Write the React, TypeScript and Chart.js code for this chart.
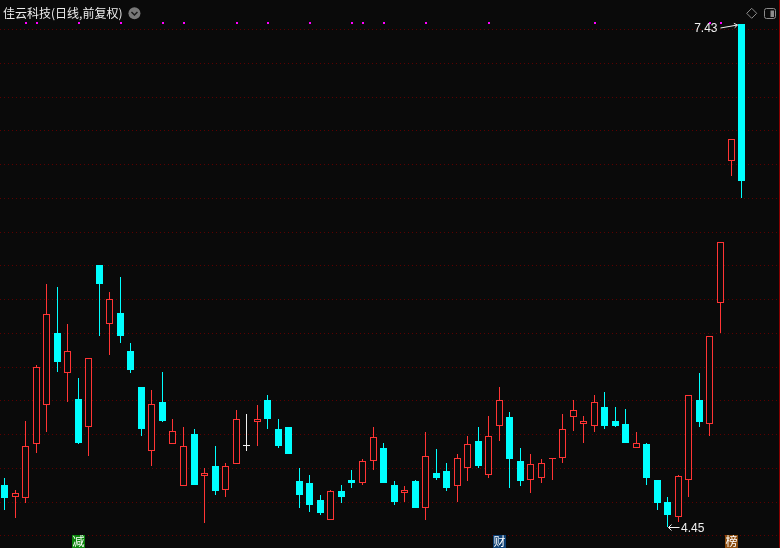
import React, { useEffect, useRef } from "react";
import { Chart, registerables, LinearScale } from "chart.js";

// pixel-snapped linear scales so candles render crisp like the terminal chart
class SnapX extends (LinearScale as any) {
  static id = "snapX";
  static defaults = (LinearScale as any).defaults;
  getPixelForValue(v: number) {
    return Math.floor(super.getPixelForValue(v)) + 0.5;
  }
}
class SnapY extends (LinearScale as any) {
  static id = "snapY";
  static defaults = (LinearScale as any).defaults;
  getPixelForValue(v: number) {
    return Math.round(super.getPixelForValue(v));
  }
}
Chart.register(...registerables, SnapX as any, SnapY as any);

// ---- data (daily candles, forward-adjusted) ----
const opens = [
  4.70, 4.63, 4.62, 4.94, 5.17, 5.60, 5.36, 5.21, 5.04, 6.00,
  5.65, 5.72, 5.49, 5.28, 4.90, 5.19, 4.94, 4.69, 5.00, 4.75,
  4.81, 4.67, 4.82, 4.93, 5.07, 5.20, 5.03, 5.04, 4.72, 4.71,
  4.61, 4.49, 4.66, 4.73, 4.71, 4.84, 4.92, 4.70, 4.65, 4.72,
  4.56, 4.77, 4.78, 4.69, 4.80, 4.96, 4.76, 5.05, 5.10, 4.84,
  4.73, 4.74, 4.85, 4.86, 5.10, 5.06, 5.05, 5.16, 5.08, 5.06,
  4.92, 4.94, 4.73, 4.60, 4.51, 4.73, 5.20, 5.06, 5.78, 6.62,
  7.43,
];
const highs = [
  4.74, 4.67, 5.08, 5.41, 5.89, 5.87, 5.65, 5.33, 5.45, 6.00,
  5.84, 5.93, 5.54, 5.28, 5.26, 5.37, 5.09, 5.04, 5.03, 4.80,
  4.93, 4.83, 5.14, 5.12, 5.17, 5.23, 5.09, 5.04, 4.80, 4.76,
  4.64, 4.67, 4.70, 4.79, 4.85, 5.04, 4.95, 4.72, 4.69, 4.73,
  5.01, 4.91, 4.83, 4.88, 4.99, 5.04, 5.11, 5.28, 5.13, 4.92,
  4.88, 4.85, 4.86, 5.12, 5.20, 5.11, 5.23, 5.25, 5.16, 5.15,
  5.01, 4.95, 4.73, 4.63, 4.76, 5.23, 5.36, 5.58, 6.14, 6.75,
  7.43,
];
const lows = [
  4.55, 4.50, 4.59, 4.89, 5.01, 5.37, 5.19, 4.94, 4.87, 5.58,
  5.47, 5.54, 5.36, 4.99, 4.81, 5.07, 4.94, 4.69, 4.70, 4.47,
  4.64, 4.63, 4.82, 4.90, 4.93, 5.03, 4.92, 4.88, 4.56, 4.54,
  4.52, 4.49, 4.59, 4.68, 4.70, 4.79, 4.71, 4.58, 4.60, 4.56,
  4.49, 4.73, 4.66, 4.60, 4.72, 4.80, 4.74, 4.96, 4.68, 4.69,
  4.65, 4.71, 4.73, 4.83, 5.02, 4.95, 5.01, 5.03, 5.04, 4.95,
  4.92, 4.70, 4.55, 4.45, 4.48, 4.63, 5.04, 4.99, 5.60, 6.53,
  6.40,
];
const closes = [
  4.62, 4.65, 4.93, 5.40, 5.71, 5.43, 5.49, 4.95, 5.45, 5.89,
  5.80, 5.58, 5.38, 5.03, 5.18, 5.08, 5.02, 4.93, 4.70, 4.77,
  4.66, 4.81, 5.09, 4.93, 5.09, 5.09, 4.93, 4.88, 4.64, 4.58,
  4.53, 4.66, 4.63, 4.71, 4.84, 4.98, 4.71, 4.60, 4.67, 4.56,
  4.87, 4.74, 4.68, 4.86, 4.94, 4.81, 4.99, 5.20, 4.85, 4.72,
  4.82, 4.83, 4.86, 5.03, 5.14, 5.08, 5.19, 5.05, 5.05, 4.95,
  4.95, 4.74, 4.59, 4.52, 4.75, 5.23, 5.07, 5.58, 6.14, 6.75,
  6.50,
];
// signal markers (magenta dots along the top)
const markerIdx = [2, 3, 7, 11, 15, 17, 22, 25, 29, 33, 34, 36, 40, 46, 56, 67, 68];
const markerLevel = 7.44;
// bottom event tags
const tagIdx = [7, 47, 69];
const tagText = ["减", "财", "榜"];
const tagColor = ["#0b840b", "#0d3f73", "#8c4c0e"];
// horizontal price grid
const priceGrid = [4.4, 4.6, 4.8, 5.0, 5.2, 5.4, 5.6, 5.8, 6.0, 6.2, 6.4, 6.6, 6.8, 7.0, 7.2, 7.4];
const titleText = "佳云科技(日线,前复权)";

const BG = "#0a0a0a";
const RED = "#ff3434";
const CYAN = "#00ffff";
const WHITE = "#f0f0f0";

export default function App() {
  const ref = useRef<HTMLCanvasElement | null>(null);

  useEffect(() => {
    const canvas = ref.current;
    if (!canvas) return;
    const idx = opens.map((_, i) => i);
    const col = closes.map((c, i) => (c > opens[i] ? RED : c < opens[i] ? CYAN : WHITE));
    const fill = col.map((c) => (c === RED ? BG : c));

    // 2x2 magenta dot sprite (3 wide so it lands on whole pixels)
    const dot = document.createElement("canvas");
    dot.width = 3;
    dot.height = 2;
    const dctx = dot.getContext("2d");
    if (dctx) {
      dctx.fillStyle = "#ff00ff";
      dctx.fillRect(1, 0, 2, 2);
    }

    const overlay = {
      id: "overlay",
      afterDatasetsDraw(chart: any) {
        const ctx = chart.ctx as CanvasRenderingContext2D;
        const xs = chart.scales.x;
        const ys = chart.scales.y;
        ctx.save();
        // right border
        ctx.strokeStyle = "#8a0000";
        ctx.lineWidth = 1;
        ctx.beginPath();
        ctx.moveTo(779.5, 0);
        ctx.lineTo(779.5, 548);
        ctx.stroke();

        // title
        ctx.font = '12px "Noto Sans CJK SC", sans-serif';
        ctx.fillStyle = "#ececec";
        ctx.textBaseline = "middle";
        ctx.textAlign = "left";
        ctx.fillText(titleText, 3, 13.5);
        const tw = ctx.measureText(titleText).width;
        const cx0 = 3 + tw + 12;
        ctx.fillStyle = "#787878";
        ctx.beginPath();
        ctx.arc(cx0, 13.2, 6, 0, Math.PI * 2);
        ctx.fill();
        ctx.strokeStyle = "#1a1a1a";
        ctx.lineWidth = 1.5;
        ctx.beginPath();
        ctx.moveTo(cx0 - 3, 12);
        ctx.lineTo(cx0, 15);
        ctx.lineTo(cx0 + 3, 12);
        ctx.stroke();

        // top-right icons
        ctx.strokeStyle = "#8c8c8c";
        ctx.lineWidth = 1;
        ctx.beginPath();
        ctx.moveTo(751.7, 8.3);
        ctx.lineTo(756.7, 13.3);
        ctx.lineTo(751.7, 18.3);
        ctx.lineTo(746.7, 13.3);
        ctx.closePath();
        ctx.stroke();
        ctx.beginPath();
        (ctx as any).roundRect ? (ctx as any).roundRect(764.5, 8.5, 11, 10, 2) : ctx.rect(764.5, 8.5, 11, 10);
        ctx.stroke();
        ctx.fillStyle = "#8c8c8c";
        ctx.fillRect(770.5, 10.5, 3.5, 6.5);

        // max / min labels
        let hi = 0, lo = 0;
        highs.forEach((h, i) => { if (h > highs[hi]) hi = i; });
        lows.forEach((l, i) => { if (l < lows[lo]) lo = i; });
        ctx.font = '12px "Liberation Sans", Arial, sans-serif';
        ctx.fillStyle = "#f0f0f0";
        ctx.strokeStyle = "#f0f0f0";
        ctx.lineWidth = 1;
        const hx = xs.getPixelForValue(hi);
        const hy = ys.getPixelForValue(highs[hi]);
        ctx.textAlign = "right";
        ctx.fillText(highs[hi].toFixed(2), hx - 24, hy + 5);
        const ax0 = hx - 21, ay0 = hy + 4, ax1 = hx - 4, ay1 = hy + 1;
        ctx.beginPath();
        ctx.moveTo(ax0, ay0);
        ctx.lineTo(ax1, ay1);
        const ang = Math.atan2(ay1 - ay0, ax1 - ax0);
        ctx.moveTo(ax1, ay1);
        ctx.lineTo(ax1 - 4 * Math.cos(ang - 0.6), ay1 - 4 * Math.sin(ang - 0.6));
        ctx.moveTo(ax1, ay1);
        ctx.lineTo(ax1 - 4 * Math.cos(ang + 0.6), ay1 - 4 * Math.sin(ang + 0.6));
        ctx.stroke();

        const lx = xs.getPixelForValue(lo);
        const ly = ys.getPixelForValue(lows[lo]);
        ctx.beginPath();
        ctx.moveTo(lx + 1, ly + 0.5);
        ctx.lineTo(lx + 12, ly + 0.5);
        ctx.moveTo(lx + 1, ly + 0.5);
        ctx.lineTo(lx + 4, ly - 2.5);
        ctx.moveTo(lx + 1, ly + 0.5);
        ctx.lineTo(lx + 4, ly + 3.5);
        ctx.stroke();
        ctx.textAlign = "left";
        ctx.fillText(lows[lo].toFixed(2), lx + 13.5, ly + 1.5);

        // bottom tags
        ctx.font = '12px "Noto Sans CJK SC", sans-serif';
        ctx.textAlign = "center";
        tagIdx.forEach((ti, k) => {
          const tx = xs.getPixelForValue(ti);
          ctx.fillStyle = tagColor[k];
          ctx.fillRect(Math.round(tx - 6.5), 535, 13, 13);
          ctx.fillStyle = "#ffffff";
          ctx.fillText(tagText[k], tx, 541.5);
        });
        ctx.restore();
      },
    };

    const chart = new Chart(canvas, {
      type: "bar",
      data: {
        datasets: [
          {
            type: "bar",
            label: "body",
            data: idx.map((i) => ({ x: i, y: [opens[i], closes[i]] })) as any,
            backgroundColor: fill,
            borderColor: col,
            borderWidth: 1,
            borderSkipped: false,
            barThickness: 7,
            minBarLength: 1,
            inflateAmount: 0,
            grouped: false,
            order: 0,
          } as any,
          {
            type: "bar",
            label: "wick",
            data: idx.map((i) => ({ x: i, y: [lows[i], highs[i]] })) as any,
            backgroundColor: col,
            borderWidth: 0,
            borderSkipped: false,
            barThickness: 1,
            inflateAmount: 0,
            grouped: false,
            order: 1,
          } as any,
          {
            type: "scatter",
            label: "signal",
            data: markerIdx.map((i) => ({ x: i, y: markerLevel })),
            pointStyle: dot,
            pointRadius: 1.42,
            pointHoverRadius: 0,
            pointHitRadius: 0,
            backgroundColor: "#ff00ff",
            borderWidth: 0,
            clip: false,
            order: 2,
          } as any,
        ],
      },
      options: {
        animation: false,
        responsive: false,
        maintainAspectRatio: false,
        devicePixelRatio: 1,
        events: [],
        layout: { padding: 0, autoPadding: false },
        plugins: { legend: { display: false }, tooltip: { enabled: false }, title: { display: false } },
        scales: {
          x: { type: "snapX", min: -0.4274, max: 73.653, display: false, offset: false },
          y: {
            type: "snapY",
            position: "left",
            min: 4.3247,
            max: 7.5737,
            afterBuildTicks: (s: any) => {
              s.ticks = priceGrid.map((v) => ({ value: v }));
            },
            ticks: { display: false },
            grid: { color: "#5c0000", lineWidth: 1, drawTicks: false },
            border: { display: false, dash: [1, 3] },
          },
        },
      } as any,
      plugins: [overlay],
    });
    return () => chart.destroy();
  }, []);

  return (
    <div style={{ position: "fixed", left: 0, top: 0, width: 780, height: 548, background: BG, overflow: "hidden" }}>
      <canvas ref={ref} width={780} height={548} style={{ display: "block" }} />
    </div>
  );
}
